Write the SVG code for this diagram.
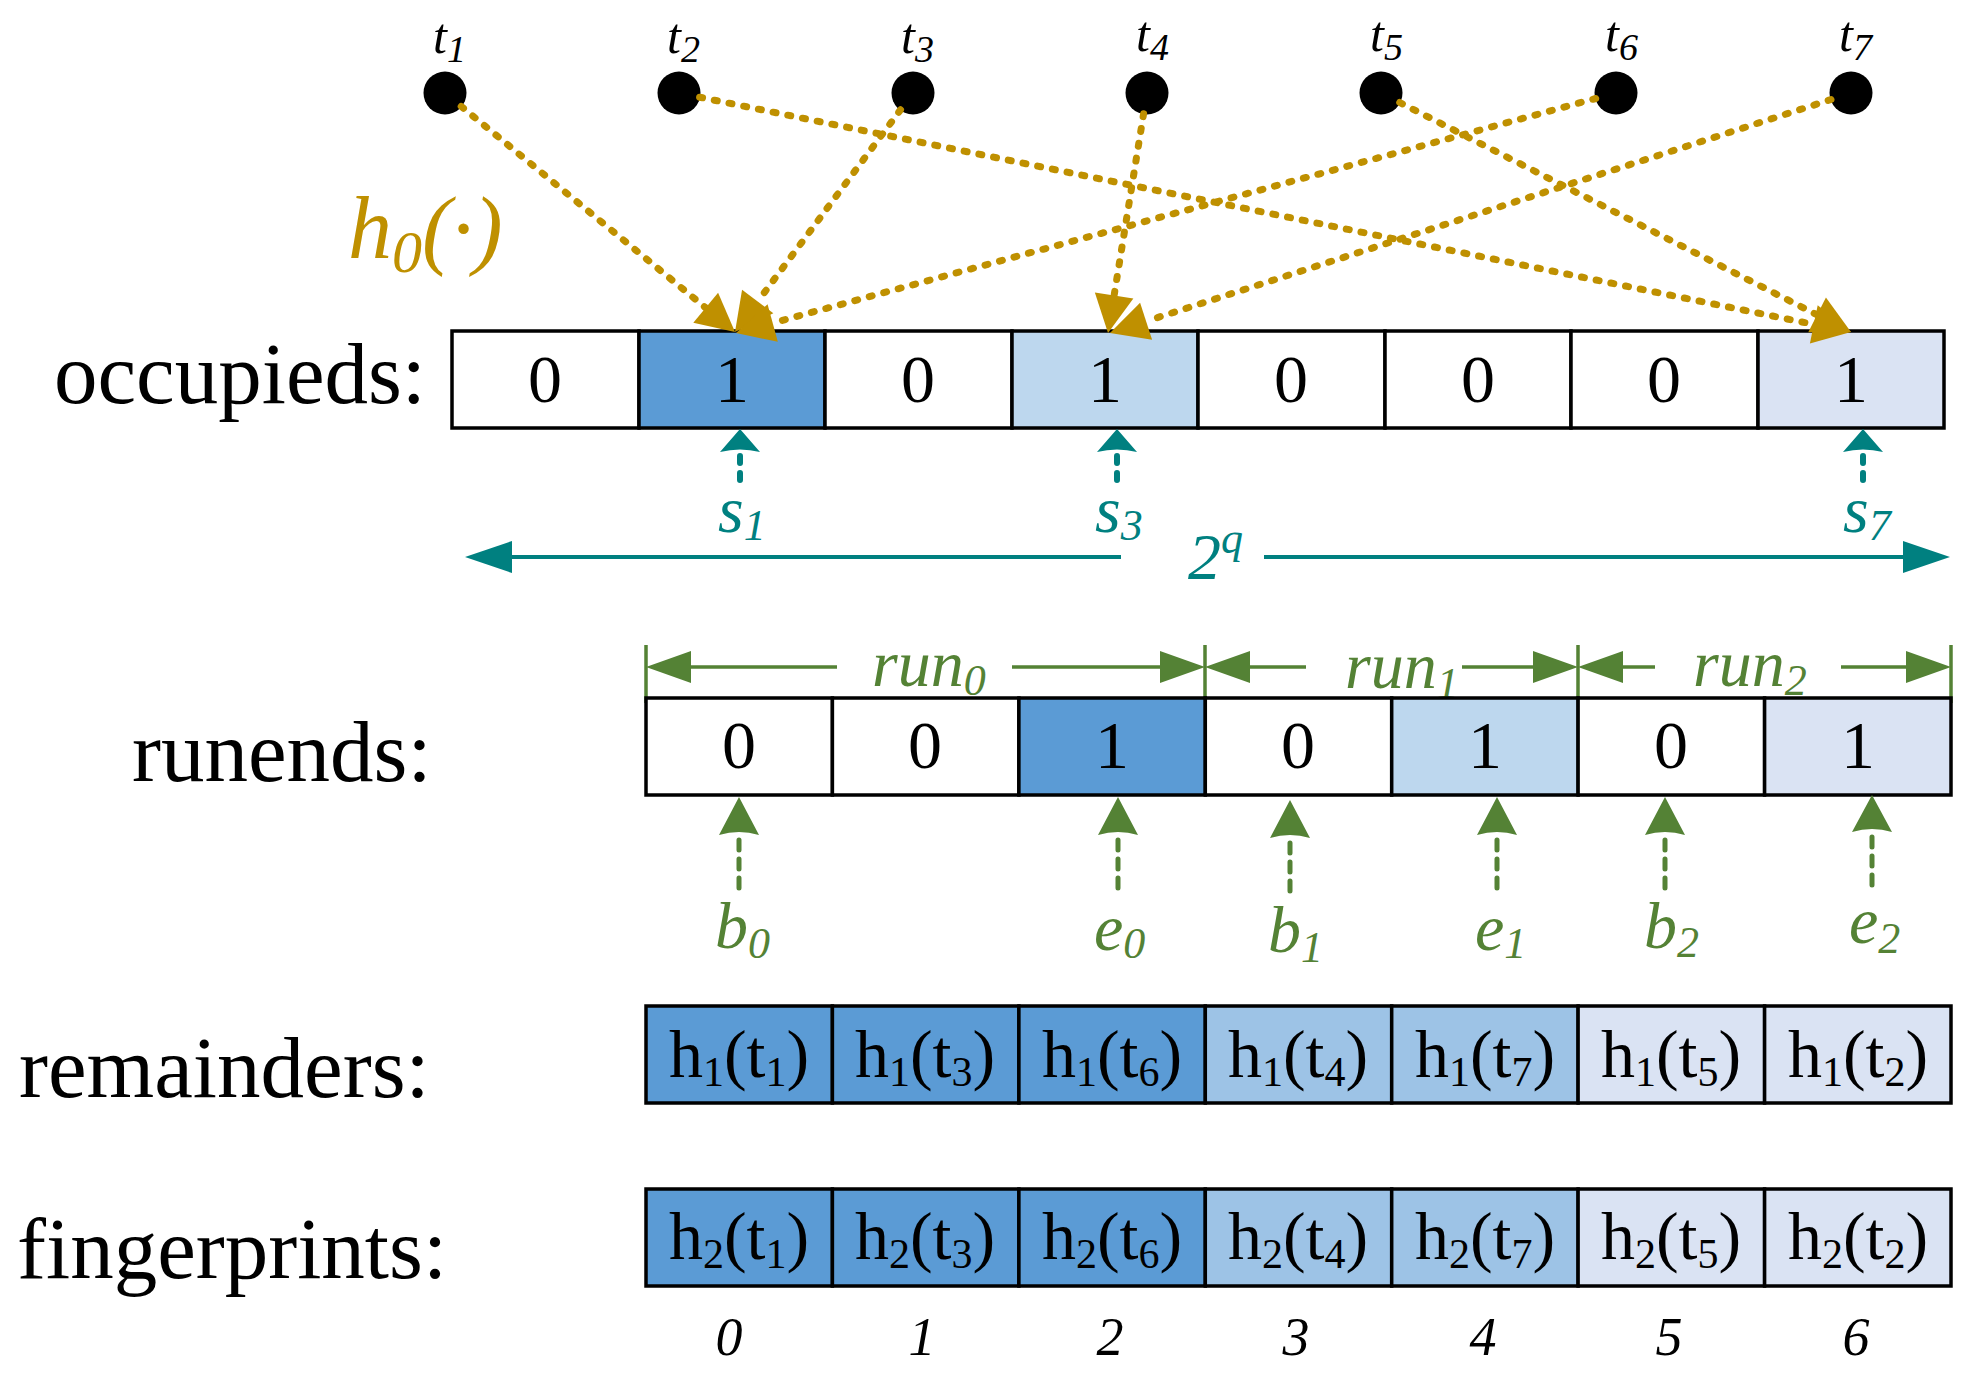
<svg xmlns="http://www.w3.org/2000/svg" width="1969" height="1382" viewBox="0 0 1969 1382">
<style>
text{font-family:"Liberation Serif","Times New Roman",serif;}
.lbl{font-size:87px;fill:#000;}
.dig{font-size:68px;text-anchor:middle;fill:#000;}
.hf{font-size:68px;text-anchor:middle;fill:#000;}
.hs{font-size:42px;}
.it{font-style:italic;}
.cell{stroke:#000;stroke-width:3.5;}
.w{fill:#FFFFFF;}
.b1{fill:#5B9BD5;}
.b2{fill:#BDD7EE;}
.b3{fill:#DAE3F3;}
.b4{fill:#9DC3E6;}
.gold{fill:none;stroke:#BF9000;stroke-width:7;stroke-linecap:round;stroke-dasharray:3 12;}
.teal{fill:#008080;}
.green{fill:#548235;}
.gline{stroke:#548235;stroke-width:3.5;fill:none;}
.tline{stroke:#008080;stroke-width:4;fill:none;}
.gdash{stroke:#548235;stroke-width:5;stroke-linecap:round;stroke-dasharray:10 9;fill:none;}
.tdash{stroke:#008080;stroke-width:6;stroke-linecap:round;stroke-dasharray:7 10;fill:none;}
</style>
<defs>
<marker id="ga" markerUnits="userSpaceOnUse" markerWidth="40" markerHeight="40" refX="0" refY="19.5" orient="auto" overflow="visible">
<path d="M0,0 L38,19.5 L0,39 Z" fill="#BF9000"/>
</marker>
</defs>
<rect width="1969" height="1382" fill="#FFFFFF"/>

<!-- item nodes -->
<g id="t1"><circle cx="445" cy="93" r="21.5" fill="#000"/><text class="it" x="433" y="53" font-size="50">t<tspan font-size="38" dy="9">1</tspan></text></g>
<g id="t2"><circle cx="679" cy="93" r="21.5" fill="#000"/><text class="it" x="667" y="53" font-size="50">t<tspan font-size="38" dy="9">2</tspan></text></g>
<g id="t3"><circle cx="913" cy="93" r="21.5" fill="#000"/><text class="it" x="901" y="53" font-size="50">t<tspan font-size="38" dy="9">3</tspan></text></g>
<g id="t4"><circle cx="1147" cy="93" r="21.5" fill="#000"/><text class="it" x="1136" y="51" font-size="50">t<tspan font-size="38" dy="9">4</tspan></text></g>
<g id="t5"><circle cx="1381" cy="93" r="21.5" fill="#000"/><text class="it" x="1370" y="51" font-size="50">t<tspan font-size="38" dy="9">5</tspan></text></g>
<g id="t6"><circle cx="1616" cy="93" r="21.5" fill="#000"/><text class="it" x="1605" y="51" font-size="50">t<tspan font-size="38" dy="9">6</tspan></text></g>
<g id="t7"><circle cx="1851" cy="93" r="21.5" fill="#000"/><text class="it" x="1839" y="51" font-size="50">t<tspan font-size="38" dy="9">7</tspan></text></g>

<g id="h0label"><text class="it" x="348" y="258" font-size="88" fill="#BF9000">h<tspan font-size="60" dy="14">0</tspan><tspan dy="-14">(·)</tspan></text></g>

<!-- occupieds row -->
<g id="occupieds">
<text class="lbl" x="54" y="403">occupieds:</text>
<rect class="cell w" x="452" y="331" width="187" height="97"/>
<rect class="cell b1" x="639" y="331" width="186" height="97"/>
<rect class="cell w" x="825" y="331" width="187" height="97"/>
<rect class="cell b2" x="1012" y="331" width="186" height="97"/>
<rect class="cell w" x="1198" y="331" width="187" height="97"/>
<rect class="cell w" x="1385" y="331" width="186" height="97"/>
<rect class="cell w" x="1571" y="331" width="187" height="97"/>
<rect class="cell b3" x="1758" y="331" width="186" height="97"/>
<text class="dig" x="545" y="402">0</text>
<text class="dig" x="732" y="402">1</text>
<text class="dig" x="918" y="402">0</text>
<text class="dig" x="1105" y="402">1</text>
<text class="dig" x="1291" y="402">0</text>
<text class="dig" x="1478" y="402">0</text>
<text class="dig" x="1664" y="402">0</text>
<text class="dig" x="1851" y="402">1</text>
</g>

<!-- slot pointers s -->
<g id="s-pointers">
<path class="tdash" d="M740,456 L740,480"/>
<path class="teal" d="M740,429 L720,452 Q740,447 760,452 Z"/>
<text class="it" x="718" y="532" font-size="66" fill="#008080">s<tspan font-size="44" dy="8">1</tspan></text>
<path class="tdash" d="M1117,456 L1117,480"/>
<path class="teal" d="M1117,429 L1097,452 Q1117,447 1137,452 Z"/>
<text class="it" x="1095" y="532" font-size="66" fill="#008080">s<tspan font-size="44" dy="8">3</tspan></text>
<path class="tdash" d="M1863,456 L1863,480"/>
<path class="teal" d="M1863,429 L1843,452 Q1863,447 1883,452 Z"/>
<text class="it" x="1843" y="532" font-size="66" fill="#008080">s<tspan font-size="44" dy="8">7</tspan></text>
</g>

<!-- 2^q span -->
<g id="span2q">
<path class="tline" d="M510,557 L1121,557 M1264,557 L1905,557"/>
<path class="teal" d="M465,557 L512,541 L512,573 Z"/>
<path class="teal" d="M1950,557 L1903,541 L1903,573 Z"/>
<text class="it" x="1188" y="579" font-size="66" fill="#008080">2<tspan font-size="44" dy="-26">q</tspan></text>
</g>

<!-- run spans -->
<g id="runs">
<path class="gline" d="M646,645 L646,703 M1205,645 L1205,703 M1578,645 L1578,703 M1951,645 L1951,703" stroke-width="2.5"/>
<path class="gline" d="M689,667 L837,667 M1012,667 L1162,667 M1248,667 L1306,667 M1462,667 L1535,667 M1621,667 L1655,667 M1841,667 L1908,667"/>
<path class="green" d="M646,667 L691,651 L691,683 Z"/>
<path class="green" d="M1205,667 L1160,651 L1160,683 Z"/>
<path class="green" d="M1205,667 L1250,651 L1250,683 Z"/>
<path class="green" d="M1578,667 L1533,651 L1533,683 Z"/>
<path class="green" d="M1578,667 L1623,651 L1623,683 Z"/>
<path class="green" d="M1951,667 L1906,651 L1906,683 Z"/>
<text class="it" x="872" y="686" font-size="66" fill="#548235">run<tspan font-size="44" dy="9">0</tspan></text>
<text class="it" x="1345" y="688" font-size="66" fill="#548235">run<tspan font-size="44" dy="10">1</tspan></text>
<text class="it" x="1693" y="686" font-size="66" fill="#548235">run<tspan font-size="44" dy="9">2</tspan></text>
</g>

<!-- runends row -->
<g id="runends">
<text class="lbl" x="132" y="781">runends:</text>
<rect class="cell w" x="646" y="698" width="186.4" height="97"/>
<rect class="cell w" x="832.4" y="698" width="186.5" height="97"/>
<rect class="cell b1" x="1018.9" y="698" width="186.4" height="97"/>
<rect class="cell w" x="1205.3" y="698" width="186.4" height="97"/>
<rect class="cell b2" x="1391.7" y="698" width="186.4" height="97"/>
<rect class="cell w" x="1578.1" y="698" width="186.5" height="97"/>
<rect class="cell b3" x="1764.6" y="698" width="186.4" height="97"/>
<text class="dig" x="739" y="768">0</text>
<text class="dig" x="925" y="768">0</text>
<text class="dig" x="1112" y="768">1</text>
<text class="dig" x="1298" y="768">0</text>
<text class="dig" x="1485" y="768">1</text>
<text class="dig" x="1671" y="768">0</text>
<text class="dig" x="1858" y="768">1</text>
</g>

<!-- b/e pointers -->
<g id="be-pointers">
<path class="gdash" d="M739,840 L739,893"/>
<path class="green" d="M739,797 L719,835 Q739,829 759,835 Z"/>
<text class="it" x="715" y="948" font-size="66" fill="#548235">b<tspan font-size="44" dy="10">0</tspan></text>
<path class="gdash" d="M1118,840 L1118,893"/>
<path class="green" d="M1118,797 L1098,835 Q1118,829 1138,835 Z"/>
<text class="it" x="1094" y="950" font-size="66" fill="#548235">e<tspan font-size="44" dy="8">0</tspan></text>
<path class="gdash" d="M1290,843 L1290,893"/>
<path class="green" d="M1290,800 L1270,838 Q1290,832 1310,838 Z"/>
<text class="it" x="1268" y="952" font-size="66" fill="#548235">b<tspan font-size="44" dy="10">1</tspan></text>
<path class="gdash" d="M1497,840 L1497,893"/>
<path class="green" d="M1497,797 L1477,835 Q1497,829 1517,835 Z"/>
<text class="it" x="1475" y="950" font-size="66" fill="#548235">e<tspan font-size="44" dy="8">1</tspan></text>
<path class="gdash" d="M1665,840 L1665,891"/>
<path class="green" d="M1665,797 L1645,835 Q1665,829 1685,835 Z"/>
<text class="it" x="1644" y="948" font-size="66" fill="#548235">b<tspan font-size="44" dy="9">2</tspan></text>
<path class="gdash" d="M1872,837 L1872,888"/>
<path class="green" d="M1872,795 L1852,832 Q1872,826 1892,832 Z"/>
<text class="it" x="1849" y="943" font-size="66" fill="#548235">e<tspan font-size="44" dy="10">2</tspan></text>
</g>

<!-- remainders row -->
<g id="remainders">
<text class="lbl" x="19" y="1097">remainders:</text>
<rect class="cell b1" x="646" y="1006" width="186.4" height="97"/>
<rect class="cell b1" x="832.4" y="1006" width="186.5" height="97"/>
<rect class="cell b1" x="1018.9" y="1006" width="186.4" height="97"/>
<rect class="cell b4" x="1205.3" y="1006" width="186.4" height="97"/>
<rect class="cell b4" x="1391.7" y="1006" width="186.4" height="97"/>
<rect class="cell b3" x="1578.1" y="1006" width="186.5" height="97"/>
<rect class="cell b3" x="1764.6" y="1006" width="186.4" height="97"/>
<text class="hf" x="739" y="1077">h<tspan class="hs" dy="9">1</tspan><tspan dy="-9">(t</tspan><tspan class="hs" dy="9">1</tspan><tspan dy="-9">)</tspan></text>
<text class="hf" x="925" y="1077">h<tspan class="hs" dy="9">1</tspan><tspan dy="-9">(t</tspan><tspan class="hs" dy="9">3</tspan><tspan dy="-9">)</tspan></text>
<text class="hf" x="1112" y="1077">h<tspan class="hs" dy="9">1</tspan><tspan dy="-9">(t</tspan><tspan class="hs" dy="9">6</tspan><tspan dy="-9">)</tspan></text>
<text class="hf" x="1298" y="1077">h<tspan class="hs" dy="9">1</tspan><tspan dy="-9">(t</tspan><tspan class="hs" dy="9">4</tspan><tspan dy="-9">)</tspan></text>
<text class="hf" x="1485" y="1077">h<tspan class="hs" dy="9">1</tspan><tspan dy="-9">(t</tspan><tspan class="hs" dy="9">7</tspan><tspan dy="-9">)</tspan></text>
<text class="hf" x="1671" y="1077">h<tspan class="hs" dy="9">1</tspan><tspan dy="-9">(t</tspan><tspan class="hs" dy="9">5</tspan><tspan dy="-9">)</tspan></text>
<text class="hf" x="1858" y="1077">h<tspan class="hs" dy="9">1</tspan><tspan dy="-9">(t</tspan><tspan class="hs" dy="9">2</tspan><tspan dy="-9">)</tspan></text>
</g>

<!-- fingerprints row -->
<g id="fingerprints">
<text class="lbl" x="17" y="1278">fingerprints:</text>
<rect class="cell b1" x="646" y="1189" width="186.4" height="97"/>
<rect class="cell b1" x="832.4" y="1189" width="186.5" height="97"/>
<rect class="cell b1" x="1018.9" y="1189" width="186.4" height="97"/>
<rect class="cell b4" x="1205.3" y="1189" width="186.4" height="97"/>
<rect class="cell b4" x="1391.7" y="1189" width="186.4" height="97"/>
<rect class="cell b3" x="1578.1" y="1189" width="186.5" height="97"/>
<rect class="cell b3" x="1764.6" y="1189" width="186.4" height="97"/>
<text class="hf" x="739" y="1259">h<tspan class="hs" dy="9">2</tspan><tspan dy="-9">(t</tspan><tspan class="hs" dy="9">1</tspan><tspan dy="-9">)</tspan></text>
<text class="hf" x="925" y="1259">h<tspan class="hs" dy="9">2</tspan><tspan dy="-9">(t</tspan><tspan class="hs" dy="9">3</tspan><tspan dy="-9">)</tspan></text>
<text class="hf" x="1112" y="1259">h<tspan class="hs" dy="9">2</tspan><tspan dy="-9">(t</tspan><tspan class="hs" dy="9">6</tspan><tspan dy="-9">)</tspan></text>
<text class="hf" x="1298" y="1259">h<tspan class="hs" dy="9">2</tspan><tspan dy="-9">(t</tspan><tspan class="hs" dy="9">4</tspan><tspan dy="-9">)</tspan></text>
<text class="hf" x="1485" y="1259">h<tspan class="hs" dy="9">2</tspan><tspan dy="-9">(t</tspan><tspan class="hs" dy="9">7</tspan><tspan dy="-9">)</tspan></text>
<text class="hf" x="1671" y="1259">h<tspan class="hs" dy="9">2</tspan><tspan dy="-9">(t</tspan><tspan class="hs" dy="9">5</tspan><tspan dy="-9">)</tspan></text>
<text class="hf" x="1858" y="1259">h<tspan class="hs" dy="9">2</tspan><tspan dy="-9">(t</tspan><tspan class="hs" dy="9">2</tspan><tspan dy="-9">)</tspan></text>
</g>

<!-- slot indices -->
<g id="indices" class="it" font-size="54" text-anchor="middle">
<text x="729" y="1355">0</text>
<text x="922" y="1355">1</text>
<text x="1110" y="1355">2</text>
<text x="1296" y="1355">3</text>
<text x="1483" y="1355">4</text>
<text x="1669" y="1355">5</text>
<text x="1856" y="1355">6</text>
</g>

<!-- hash connectors -->
<g id="connectors">
<path class="gold" d="M461.2,106.4 L705.7,307.8" marker-end="url(#ga)"/>
<path class="gold" d="M900.5,109.8 L757.7,301.5" marker-end="url(#ga)"/>
<path class="gold" d="M1595.7,98.5 L772.7,323.0" marker-end="url(#ga)"/>
<path class="gold" d="M1143.6,113.7 L1114.1,295.5" marker-end="url(#ga)"/>
<path class="gold" d="M1831.0,99.5 L1146.1,321.3" marker-end="url(#ga)"/>
<path class="gold" d="M699.6,97.2 L1813.8,324.4" marker-end="url(#ga)"/>
<path class="gold" d="M1399.7,102.5 L1817.1,314.8" marker-end="url(#ga)"/>
</g>
</svg>
